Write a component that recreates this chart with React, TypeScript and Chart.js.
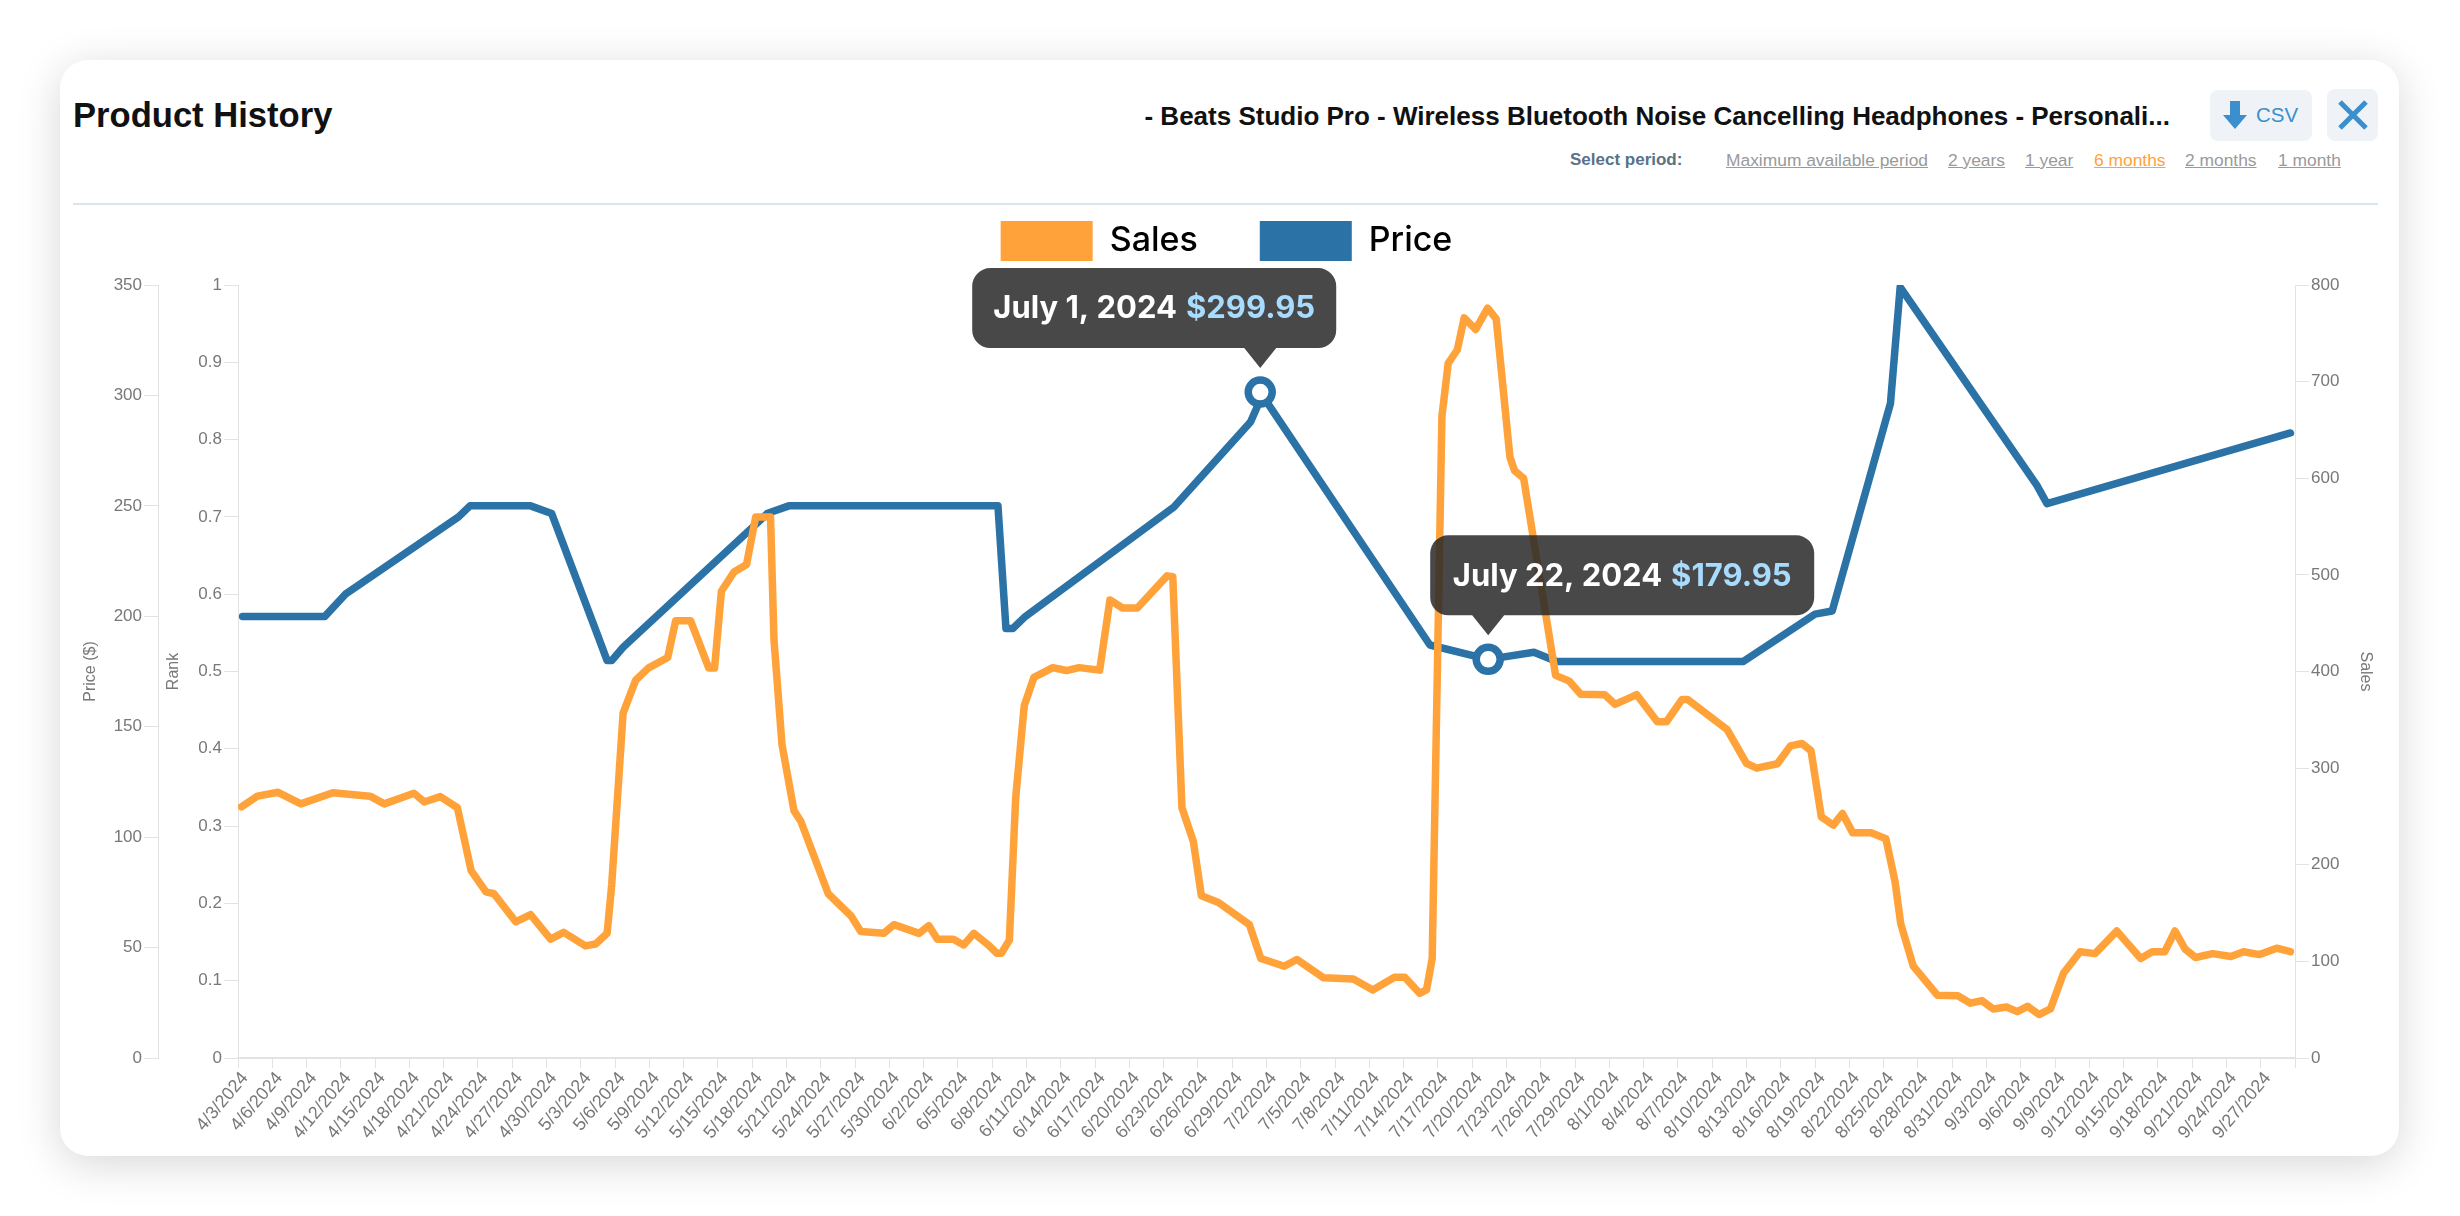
import React, { useEffect, useRef } from "react";
import { Chart, registerables } from "chart.js";

Chart.register(...registerables);

const tickLabels = [
  "4/3/2024","4/6/2024","4/9/2024","4/12/2024","4/15/2024","4/18/2024","4/21/2024","4/24/2024","4/27/2024","4/30/2024",
  "5/3/2024","5/6/2024","5/9/2024","5/12/2024","5/15/2024","5/18/2024","5/21/2024","5/24/2024","5/27/2024","5/30/2024",
  "6/2/2024","6/5/2024","6/8/2024","6/11/2024","6/14/2024","6/17/2024","6/20/2024","6/23/2024","6/26/2024","6/29/2024",
  "7/2/2024","7/5/2024","7/8/2024","7/11/2024","7/14/2024","7/17/2024","7/20/2024","7/23/2024","7/26/2024","7/29/2024",
  "8/1/2024","8/4/2024","8/7/2024","8/10/2024","8/13/2024","8/16/2024","8/19/2024","8/22/2024","8/25/2024","8/28/2024",
  "8/31/2024","9/3/2024","9/6/2024","9/9/2024","9/12/2024","9/15/2024","9/18/2024","9/21/2024","9/24/2024","9/27/2024",
];

// day offsets from 4/3/2024 and sales
const salesDays = [
  0.3,1.7,3.5,5.5,8.3,11.55,12.8,15.4,16.3,17.7,19.2,20.4,21.7,22.4,24.3,25.6,27.35,28.5,30.4,31.3,32.3,32.7,33.7,34.8,35.9,37.6,38.3,39.6,41.2,41.7,42.3,43.4,44.5,45.3,46.6,46.9,47.6,48.65,49.25,
  51.65,53.65,54.5,56.5,57.4,59.6,60.45,61.2,62.6,63.5,64.4,65.7,66.4,66.8,67.5,68.05,68.8,69.65,71.3,72.5,73.6,75.4,76.3,77.4,78.7,81.3,81.8,82.6,83.6,84.3,85.8,88.5,89.5,91.55,92.65,95,97.6,99.3,
  101.2,102.1,103.4,104,104.5,105.35,105.9,106.7,107.3,108.3,109.35,110.1,111.3,111.7,112.5,115.3,116.5,117.5,119.6,120.5,122.4,124.2,125,126.35,126.85,130.3,132,132.9,134.7,135.85,136.85,137.65,
  138.55,139.6,140.4,141.3,142.9,144.2,145,145.5,146.6,148.7,150.5,151.6,152.6,153.6,154.75,155.7,156.6,157.6,158.6,159.75,161.2,162.5,164.4,166.5,167.5,168.6,169.5,170.4,171.3,172.8,174.4,175.5,176.9,178.4,179.6,
];
const salesValues = [
  260,271,275,263,274.6,271,263,274,265,270.5,259,194,172,170,141,148.5,123,130,116,118,129,179,357,391,403.5,414.5,452.6,452.6,403.5,403.5,483,503,510.7,560,560,433,324.5,256,245,
  170,147,131,129,138,129,137,123,123,117,129,116.6,108.4,108.4,122,269,364.6,394,404,401,404,401.4,474,465.7,465.7,499,498,259,224,168,161,138,103,95,102,83,81.7,70.4,
  83.5,83.5,67,70.4,103,664,719,733,766,754,776,765,622,608,600,396,390,376.5,376,366,376,348,348,371,371,340,305,300,304.5,323,325.5,318,
  249.5,241,253,233,233,227,182.6,139,95,65,64.5,56.7,59.4,50.8,52.7,48,53.5,45,50.8,88,110,108,131.4,103,110,110,131.4,112.5,104,108,105,110,107,113.7,110,
];

const priceDays = [
  0.4,7.6,9.4,19.3,20.3,25.6,27.45,31.5,32.3,32.7,33.7,45.6,46.3,48.2,66.5,67.2,67.8,68.9,81.9,88.6,89.2,89.45,104.3,109.4,113.4,115.4,131.7,138,139.5,144.6,145.45,157.4,158.3,179.6,
];
const priceValues = [
  199.95,199.95,210,245,250,250,246.5,191,179.95,179.95,186,243,246.5,250,250,194.5,194.5,199.95,249.5,288,295,301.5,187,180.5,183.7,179.5,179.5,201,202.4,296.4,349,259.4,251,283,
];

const salesColor = "#ffa23a";
const priceColor = "#2b72a6";

const calloutDays = [89.45, 109.4];
const calloutPrices = [301.5, 180.5];
const calloutDates = ["July 1, 2024", "July 22, 2024"];
const calloutAmounts = ["$299.95", "$179.95"];
const calloutLefts = [288, 58];
const calloutRights = [76, 326];

const axisFont = "'Liberation Sans', Arial, sans-serif";
const brandFont = "Inter, sans-serif";
const axisColor = "#787878";

const calloutPlugin = {
  id: "callouts",
  afterDatasetsDraw(chart: any) {
    const { ctx, scales } = chart;
    calloutDays.forEach((day, i) => {
      const x = scales.x.getPixelForValue(day);
      const y = scales.price.getPixelForValue(calloutPrices[i]);
      const left = x - calloutLefts[i];
      const width = calloutLefts[i] + calloutRights[i];
      const bottom = y - 44;
      const height = 80;
      ctx.save();
      ctx.fillStyle = "rgba(42,42,42,0.86)";
      ctx.beginPath();
      ctx.roundRect(left, bottom - height, width, height, 18);
      ctx.moveTo(x - 16, bottom);
      ctx.lineTo(x + 16, bottom);
      ctx.lineTo(x, bottom + 20);
      ctx.closePath();
      ctx.fill();
      ctx.font = `700 31px ${brandFont}`;
      ctx.textBaseline = "middle";
      ctx.textAlign = "left";
      const a = calloutDates[i];
      const b = calloutAmounts[i];
      const wa = ctx.measureText(a).width;
      const wb = ctx.measureText(b).width;
      const gap = 9;
      const tx = left + (width - wa - wb - gap) / 2;
      const ty = bottom - height / 2 + 1;
      ctx.fillStyle = "#ffffff";
      ctx.fillText(a, tx, ty);
      ctx.fillStyle = "#a8dcff";
      ctx.fillText(b, tx + wa + gap, ty);
      ctx.restore();
    });
  },
};

const legendHeightPlugin = {
  id: "legendHeight",
  beforeLayout(chart: any) {
    const legend = chart.legend;
    if (legend && !legend.__wrapped) {
      const fit = legend.fit;
      legend.fit = function () {
        fit.call(this);
        this.height = 126;
      };
      legend.__wrapped = true;
    }
  },
};

const yAxis = (position: string, weight: number, max: number, step: number, title: string, titleInset: number) => ({
  type: "linear",
  position,
  weight,
  min: 0,
  max,
  afterFit(scale: any) {
    scale.width = 80;
  },
  ticks: {
    stepSize: step,
    color: axisColor,
    font: { family: axisFont, size: 17 },
    padding: 2,
    callback: (v: any) => String(Number(Number(v).toFixed(1))),
  },
  border: { display: true, color: "#e3e3e3", width: 1 },
  grid: { drawOnChartArea: false, color: "#e3e3e3", tickLength: 14 },
  title: {
    display: true,
    text: title,
    color: axisColor,
    font: { family: axisFont, size: 16 },
    padding: { top: titleInset, bottom: 0 },
  },
});

const periods = [
  { text: "Maximum available period", left: 1726, color: "#9a9a9a" },
  { text: "2 years", left: 1948, color: "#9a9a9a" },
  { text: "1 year", left: 2025, color: "#9a9a9a" },
  { text: "6 months", left: 2094, color: "#ffa23a" },
  { text: "2 months", left: 2185, color: "#9a9a9a" },
  { text: "1 month", left: 2278, color: "#9a9a9a" },
];

const abs = (s: React.CSSProperties): React.CSSProperties => ({ position: "absolute", whiteSpace: "nowrap", ...s });

export default function App() {
  const ref = useRef<HTMLCanvasElement>(null);

  useEffect(() => {
    const chart = new Chart(ref.current as HTMLCanvasElement, {
      type: "line",
      data: {
        datasets: [
          {
            label: "Sales",
            data: salesDays.map((d, i) => ({ x: d, y: salesValues[i] })),
            borderColor: salesColor,
            backgroundColor: salesColor,
            borderWidth: 7.5,
            borderJoinStyle: "round",
            borderCapStyle: "round",
            pointRadius: 0,
            tension: 0,
            yAxisID: "sales",
          },
          {
            label: "Price",
            data: priceDays.map((d, i) => ({ x: d, y: priceValues[i] })),
            borderColor: priceColor,
            backgroundColor: priceColor,
            borderWidth: 7.5,
            borderJoinStyle: "round",
            borderCapStyle: "round",
            pointRadius: priceDays.map((d) => (calloutDays.includes(d) ? 12 : 0)),
            pointBackgroundColor: "#ffffff",
            pointBorderColor: priceColor,
            pointBorderWidth: 7.5,
            tension: 0,
            yAxisID: "price",
          },
        ],
      } as any,
      options: {
        responsive: false,
        animation: false,
        layout: { autoPadding: false, padding: { left: 78, right: 85, top: 159, bottom: 20 } },
        plugins: {
          tooltip: { enabled: false },
          legend: {
            position: "top",
            labels: {
              boxWidth: 92,
              boxHeight: 40,
              padding: 62,
              color: "#000000",
              font: { family: brandFont, size: 34, weight: "500" },
              generateLabels(chart: any) {
                return Chart.defaults.plugins.legend.labels.generateLabels(chart).map((item: any) => ({ ...item, lineWidth: 0 }));
              },
            },
          },
        },
        scales: {
          x: {
            type: "linear",
            min: 0,
            max: 180,
            afterFit(scale: any) {
              scale.height = 138;
            },
            ticks: {
              stepSize: 3,
              autoSkip: false,
              includeBounds: false,
              minRotation: 50,
              maxRotation: 50,
              labelOffset: 7,
              color: axisColor,
              font: { family: axisFont, size: 18 },
              padding: 0,
              callback: (v: any) => tickLabels[Number(v) / 3] ?? "",
            },
            border: { display: true, color: "#e3e3e3", width: 2 },
            grid: { drawOnChartArea: false, color: "#e3e3e3", tickLength: 10 },
          },
          rank: yAxis("left", 1, 1, 0.1, "Rank", 6),
          price: yAxis("left", 2, 350, 50, "Price ($)", 3),
          sales: yAxis("right", 1, 800, 100, "Sales", 0),
        },
      } as any,
      plugins: [legendHeightPlugin, calloutPlugin] as any,
    });
    return () => chart.destroy();
  }, []);

  return (
    <div style={{ position: "absolute", left: 0, top: 0, width: 2460, height: 1216, background: "#fff", overflow: "hidden", fontFamily: axisFont }}>
      <div
        style={{
          position: "absolute",
          left: 60,
          top: 60,
          width: 2339,
          height: 1096,
          background: "#fff",
          borderRadius: 28,
          boxShadow: "0 8px 44px rgba(0,0,0,0.16)",
        }}
      />
      <div style={abs({ left: 73, top: 93, fontSize: 34.6, lineHeight: "44px", fontWeight: 700, color: "#111" })}>Product History</div>
      <div style={abs({ right: 290, top: 98, fontSize: 26, lineHeight: "36px", fontWeight: 700, color: "#111" })}>
        - Beats Studio Pro - Wireless Bluetooth Noise Cancelling Headphones - Personali...
      </div>
      <div style={abs({ left: 2210, top: 90, width: 102, height: 51, background: "#eff3f7", borderRadius: 8 })} />
      <svg style={{ position: "absolute", left: 2222, top: 100 }} width="26" height="30" viewBox="0 0 26 30">
        <path d="M8 1h10v14h7L13 29 1 15h7z" fill="#3a8fcc" />
      </svg>
      <div style={abs({ left: 2256, top: 103, fontSize: 20.5, lineHeight: "24px", color: "#3a8fcc" })}>CSV</div>
      <div style={abs({ left: 2327, top: 89, width: 51, height: 52, background: "#eff3f7", borderRadius: 8 })} />
      <svg style={{ position: "absolute", left: 2337, top: 100 }} width="32" height="30" viewBox="0 0 32 30">
        <path d="M3 2l26 26M29 2L3 28" stroke="#3a8fcc" strokeWidth="5" fill="none" />
      </svg>
      <div style={abs({ left: 1570, top: 150, fontSize: 17, lineHeight: "20px", fontWeight: 700, color: "#5a7285" })}>Select period:</div>
      {periods.map((p) => (
        <div key={p.text} style={abs({ left: p.left, top: 150, fontSize: 17.4, lineHeight: "20px", color: p.color, textDecoration: "underline" })}>
          {p.text}
        </div>
      ))}
      <div style={{ position: "absolute", left: 73, top: 203, width: 2305, height: 2, background: "#d8e5ee" }} />
      <canvas ref={ref} width={2460} height={1216} style={{ position: "absolute", left: 0, top: 0 }} />
    </div>
  );
}
